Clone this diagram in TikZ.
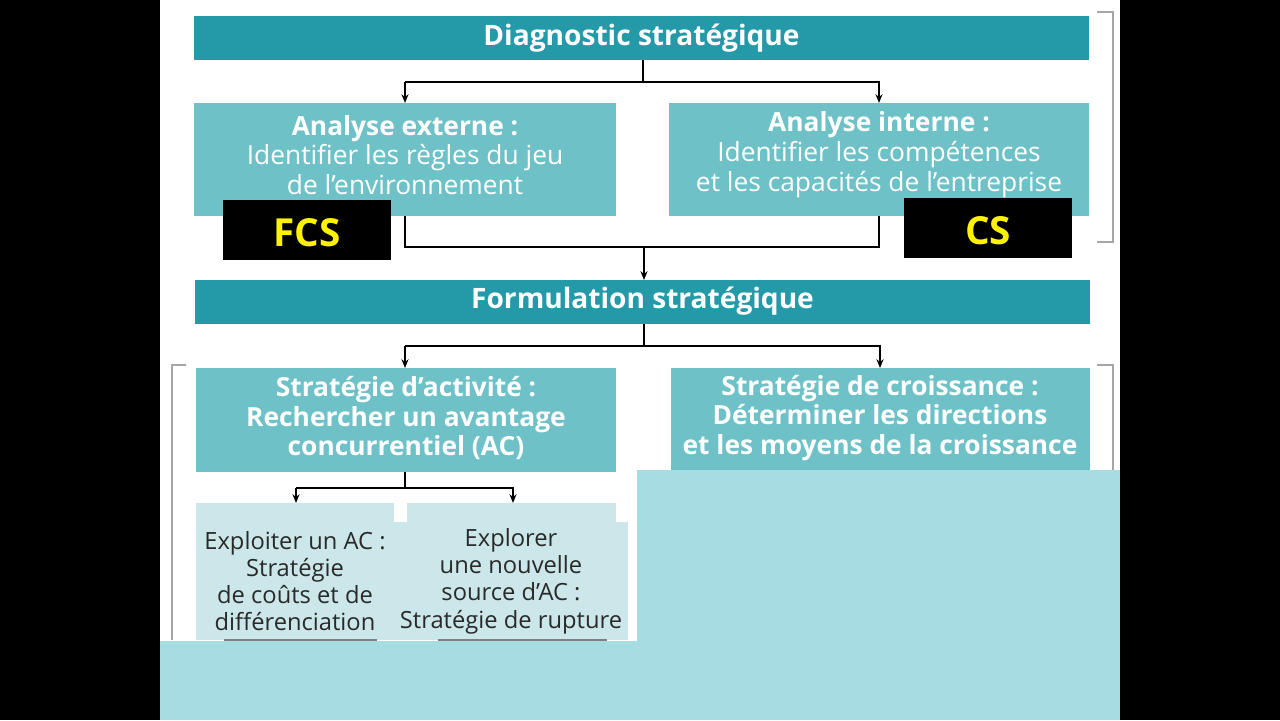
\documentclass[tikz,border=0pt]{standalone}
\usepackage{fontspec}
\setmainfont{Open Sans}
\usetikzlibrary{arrows.meta}
\definecolor{dark}{HTML}{2499A8}
\definecolor{mid}{HTML}{6EC2C7}
\definecolor{pale}{HTML}{CBE7E9}
\definecolor{over}{HTML}{A8DCE3}
\definecolor{ink}{HTML}{2A2A2A}
\tikzset{x=0.02cm,y=-0.02cm,
 hd/.style={fill=dark,draw=none,text=white,font=\bfseries\fontsize{16}{18}\selectfont},
 md/.style={fill=mid,draw=none,text=white,align=center,font=\fontsize{15}{17}\selectfont},
 pl/.style={fill=pale,draw=none,text=ink,align=center,font=\fontsize{13.5}{15.5}\selectfont},
 bk/.style={fill=black,draw=none,text=yellow,font=\bfseries\fontsize{22}{24}\selectfont},
 con/.style={draw=black,line width=1.2pt},
 arr/.style={con,-{Stealth[length=5pt,width=4pt]}},
 brk/.style={draw=gray!70,line width=1pt}}
\begin{document}
\begin{tikzpicture}
\fill[black] (0,0) rectangle (1280,720);
\useasboundingbox (0,0) rectangle (1280,720);
\fill[white] (160,0) rectangle (1120,720);
\fill[dark] (194,16) rectangle (1089,60); \node[text=white,font=\bfseries\fontsize{16}{18}\selectfont] (diag) at (641.5,38) {Diagnostic stratégique};
\fill[mid] (194,103) rectangle (616,216); \node[md] (ext) at (405,155) {\textbf{Analyse externe :}\\Identifier les règles du jeu\\de l’environnement};
\fill[mid] (669,103) rectangle (1089,216); \node[md] (int) at (879,155) {\textbf{Analyse interne :}\\Identifier les compétences\\et les capacités de l’entreprise};
\fill[dark] (195,280) rectangle (1090,324); \node[text=white,font=\bfseries\fontsize{16}{18}\selectfont] (form) at (642.5,301) {Formulation stratégique};
\fill[mid] (196,368) rectangle (616,472); \node[md] (act) at (406,418) {\textbf{Stratégie d’activité :}\\\textbf{Rechercher un avantage}\\\textbf{concurrentiel (AC)}};
\fill[mid] (671,368) rectangle (1090,470); \node[md] (cro) at (880,418) {\textbf{Stratégie de croissance :}\\\textbf{Déterminer les directions}\\\textbf{et les moyens de la croissance}};
\fill[pale] (196,503) rectangle (394,640); \node[pl] (exp1) at (295,581) {Exploiter un AC :\\Stratégie\\de coûts et de\\différenciation};
\fill[pale] (407,503) rectangle (616,640); \node[pl] (exp2) at (511,581) {Explorer\\une nouvelle\\source d’AC :\\Stratégie de rupture};
% connectors
\draw[con] (643,60) -- (643,82);
\draw[arr] (405,82) -- (1089-210,82) -- (879,103);
\draw[arr] (405,82) -- (405,103);
\draw[con] (405,216) -- (405,247) -- (879,247) -- (879,216);
\draw[arr] (644,247) -- (644,280);
\draw[con] (644,324) -- (644,346);
\draw[arr] (405,346) -- (880,346) -- (880,368);
\draw[arr] (405,346) -- (405,368);
\draw[con] (405,472) -- (405,488);
\draw[arr] (296,488) -- (513,488) -- (513,503);
\draw[arr] (296,488) -- (296,503);
% black labels
\fill[black] (223,200) rectangle (391,260); \node[bk] (fcs) at (307,233) {FCS};
\fill[black] (904,198) rectangle (1072,258); \node[bk] (cs) at (988,231) {CS};
% brackets
\draw[brk] (1097,12) -- (1113,12) -- (1113,242) -- (1097,242);
\draw[brk] (186,365) -- (172,365) -- (172,640);
\draw[brk] (1097,365) -- (1113,365) -- (1113,470);
\draw[gray,line width=0.8pt] (224,640) -- (377,640);
\draw[gray,line width=0.8pt] (438,640) -- (607,640);
% overlays
\fill[over] (637,470) rectangle (1120,641);
\fill[over] (160,641) rectangle (1120,720);
\end{tikzpicture}
\end{document}
